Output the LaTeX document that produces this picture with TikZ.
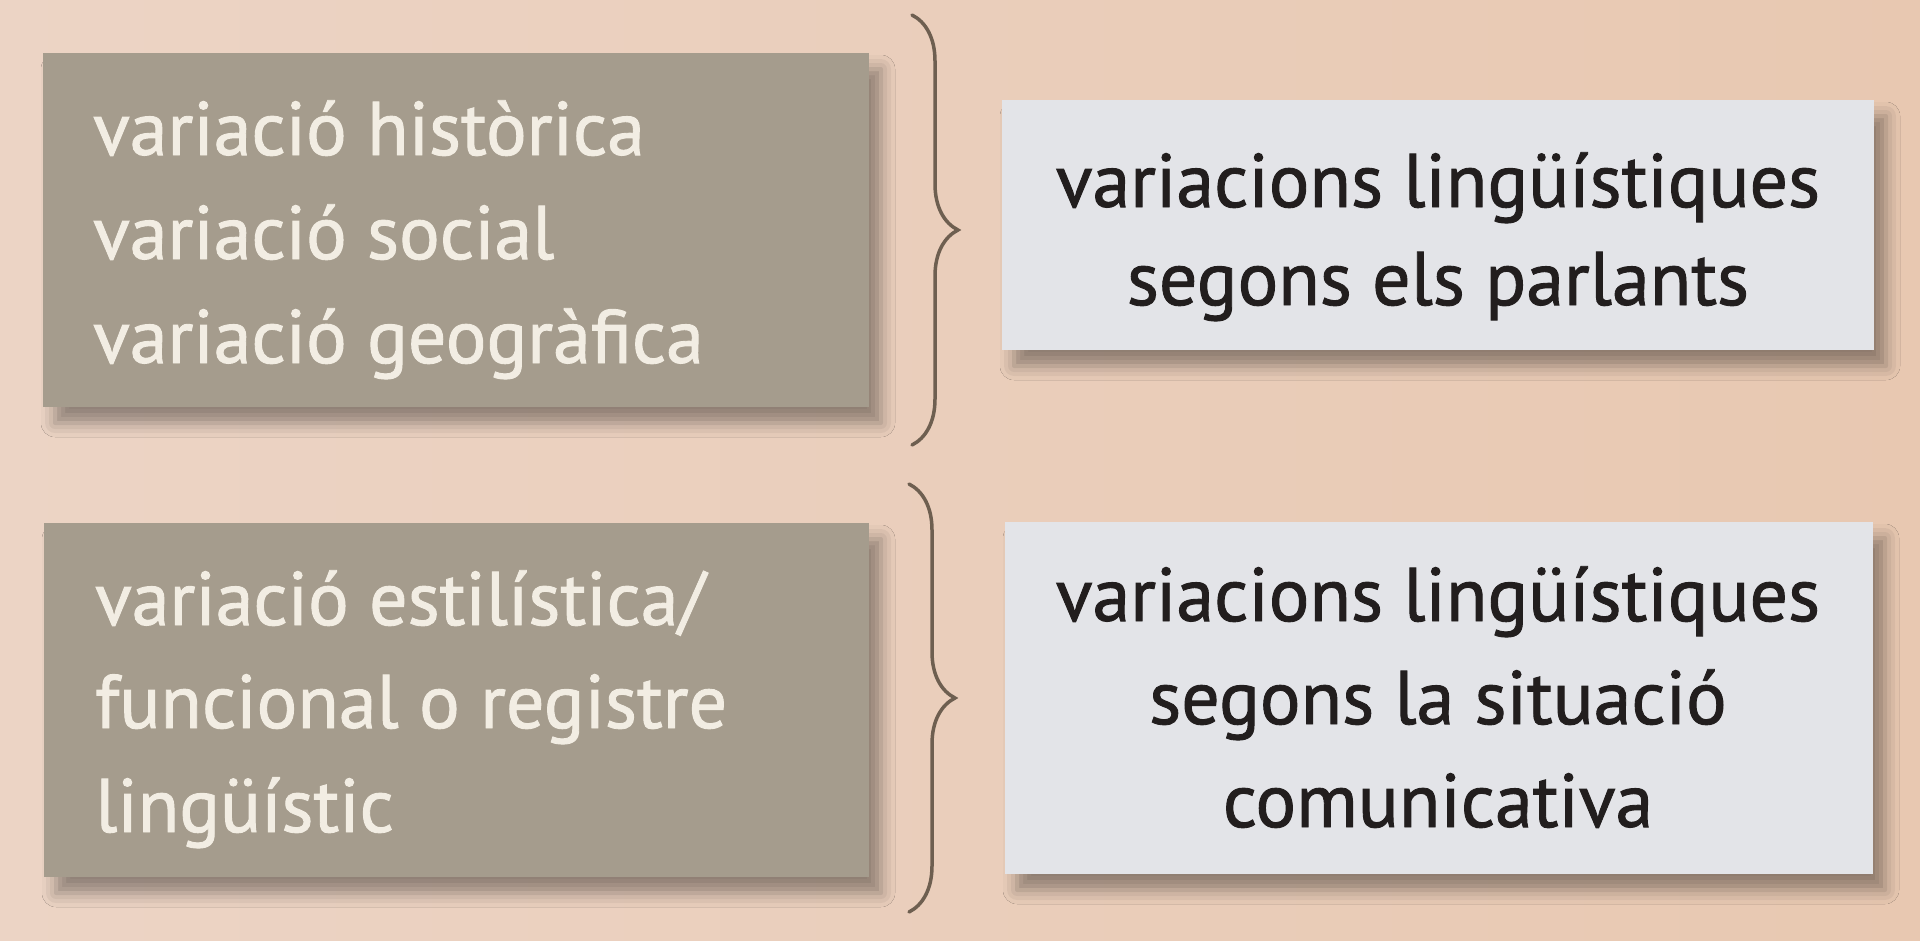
\documentclass[tikz,border=0pt]{standalone}
\usepackage{fontspec}
\setmainfont{PT Sans}
\usetikzlibrary{decorations.pathreplacing,shadows.blur}
\definecolor{paper}{HTML}{ECD4C5}
\definecolor{paperdark}{HTML}{E8C8B1}
\definecolor{taupe}{HTML}{A59C8D}
\definecolor{cream}{HTML}{F2EDE3}
\definecolor{pale}{HTML}{E3E4E8}
\definecolor{ink}{HTML}{221E1E}
\definecolor{bracecol}{HTML}{6E5F50}

\begin{document}
\begin{tikzpicture}[x=1pt,y=1pt,yscale=-1,xscale=1,
	boxshadow/.style={blur shadow={shadow xshift=12pt,shadow yshift=-16pt,shadow blur radius=14pt,shadow opacity=38}},
	leftbox/.style={boxshadow,fill=taupe,inner sep=0pt},
	rightbox/.style={boxshadow,fill=pale,inner sep=0pt},
	lighttext/.style={text=cream,inner sep=0pt,anchor=base west,font=\fontsize{76}{100}\selectfont\addfontfeatures{FakeBold=1.2}},
	darktext/.style={text=ink,inner sep=0pt,anchor=base,font=\fontsize{76}{100}\selectfont\addfontfeatures{FakeBold=1.2}},
	bigbrace/.style={draw=bracecol,line width=3.5pt,line cap=round,decorate,decoration={brace,amplitude=46pt}}]
	\useasboundingbox (0,0) rectangle (1920,940);
	\shade[left color=paper,right color=paperdark] (0,0) rectangle (1920,940);
	% boxes
	\node [leftbox,minimum width=826pt,minimum height=354pt] (speakers) at (456,230) {};
	\node [leftbox,minimum width=825pt,minimum height=354pt] (register) at (456.5,700) {};
	\node [rightbox,minimum width=872pt,minimum height=250pt] (byspeaker) at (1438,225) {};
	\node [rightbox,minimum width=868pt,minimum height=352pt] (bysituation) at (1439,698) {};
	% left texts
	\node [lighttext] (historical) at (93,155) {variació històrica};
	\node [lighttext] (social) at (93,259) {variació social};
	\node [lighttext] (geographic) at (93,363) {variació geogràfica};
	\node [lighttext] (stylistic) at (95,625) {variació estilística/};
	\node [lighttext] (functional) at (95,728) {funcional o registre};
	\node [lighttext] (linguistic) at (95,832) {lingüístic};
	% right texts
	\node [darktext] (varA) at (1438,207) {variacions lingüístiques};
	\node [darktext] (speakersA) at (1438,305) {segons els parlants};
	\node [darktext] (varB) at (1438,621) {variacions lingüístiques};
	\node [darktext] (situationB) at (1438,724) {segons la situació};
	\node [darktext] (communicative) at (1438,827) {comunicativa};
	% braces
	\coordinate (topbraceA) at (912,15);
	\coordinate (topbraceB) at (912,445);
	\coordinate (lowbraceA) at (909,484);
	\coordinate (lowbraceB) at (909,912);
	\draw [bigbrace] (topbraceA) -- (topbraceB);
	\draw [bigbrace] (lowbraceA) -- (lowbraceB);
\end{tikzpicture}
\end{document}
